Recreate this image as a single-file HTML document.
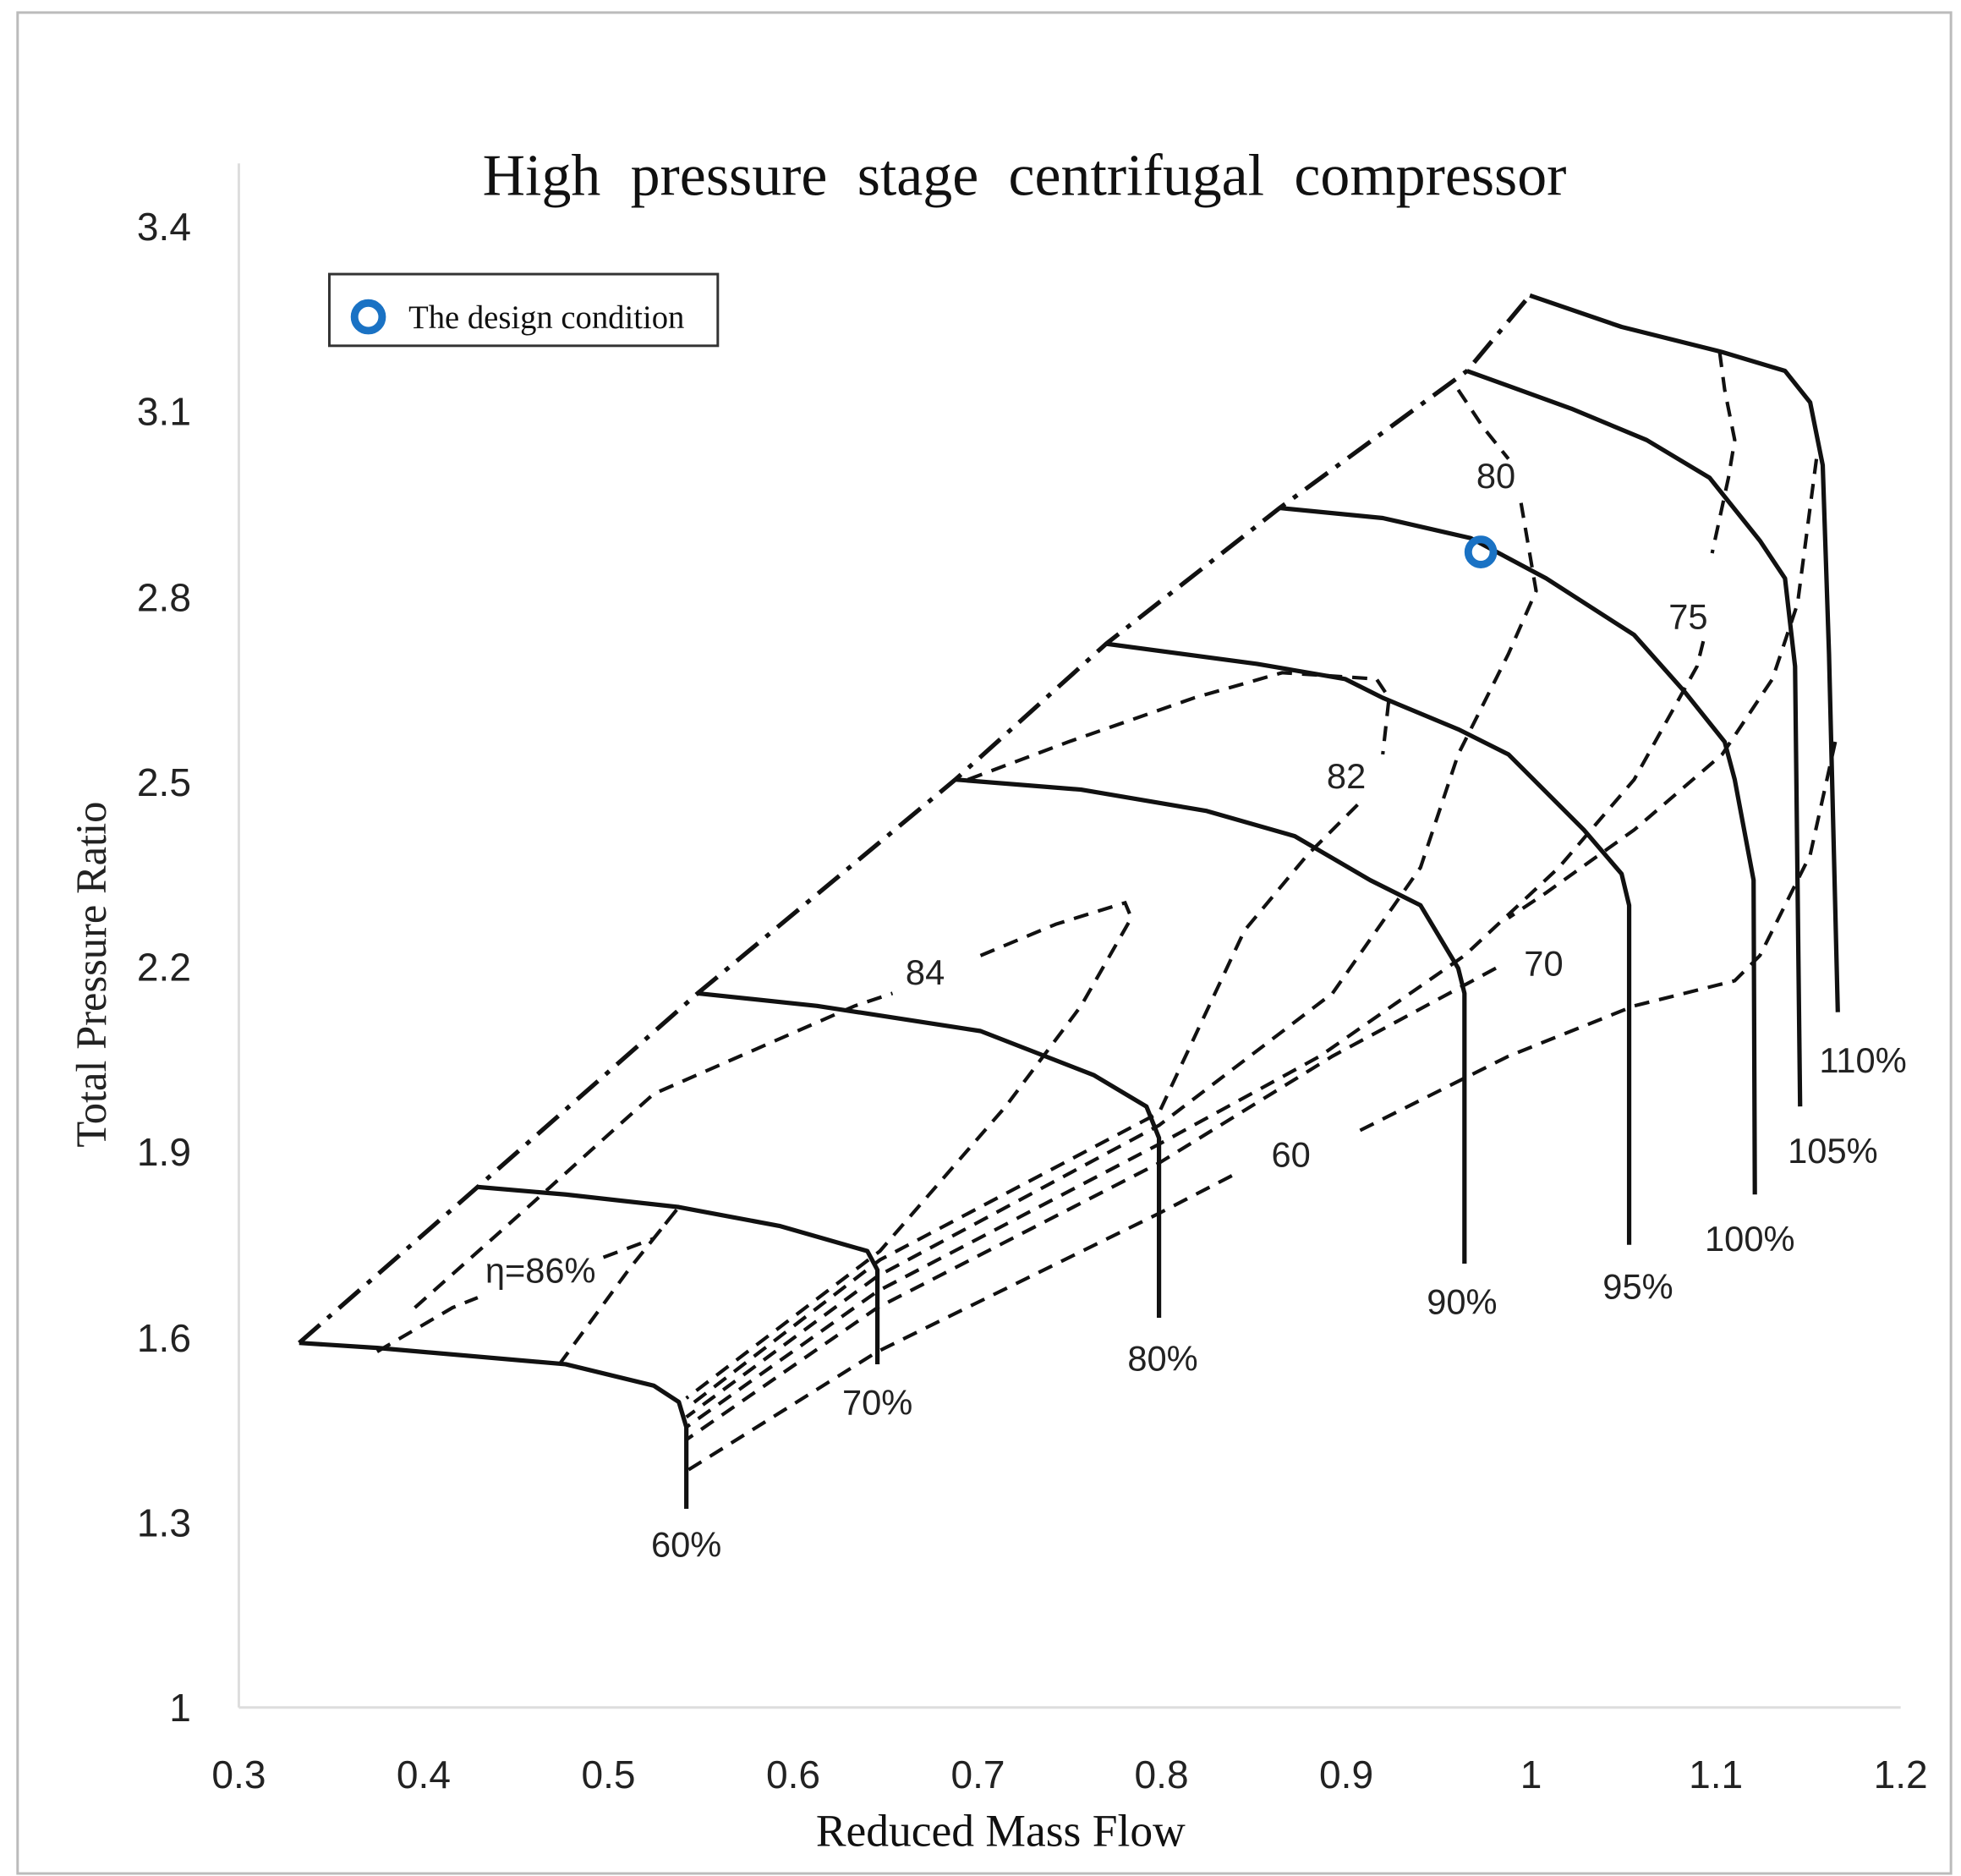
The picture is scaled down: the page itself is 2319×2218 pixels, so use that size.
<!DOCTYPE html>
<html><head><style>html,body{margin:0;padding:0;background:#fff}svg{display:block}</style></head>
<body>
<svg width="2319" height="2218" viewBox="0 0 1560 1492" preserveAspectRatio="none" xmlns="http://www.w3.org/2000/svg">
<rect x="0" y="0" width="1560" height="1492" fill="#fff"/>
<rect x="14" y="10" width="1538" height="1480" fill="none" stroke="#bbb" stroke-width="2"/>
<line x1="190" y1="130" x2="190" y2="1358" stroke="#ddd" stroke-width="2"/>
<line x1="190" y1="1358" x2="1512" y2="1358" stroke="#ddd" stroke-width="2"/>
<g font-family="Liberation Sans, sans-serif" font-size="31" fill="#222" text-anchor="end">
<text x="152" y="191">3.4</text><text x="152" y="338">3.1</text><text x="152" y="486">2.8</text>
<text x="152" y="633">2.5</text><text x="152" y="780">2.2</text><text x="152" y="927">1.9</text>
<text x="152" y="1075">1.6</text><text x="152" y="1222">1.3</text><text x="152" y="1369">1</text>
</g>
<g font-family="Liberation Sans, sans-serif" font-size="31" fill="#222" text-anchor="middle">
<text x="190" y="1422">0.3</text><text x="337" y="1422">0.4</text><text x="484" y="1422">0.5</text>
<text x="631" y="1422">0.6</text><text x="778" y="1422">0.7</text><text x="924" y="1422">0.8</text>
<text x="1071" y="1422">0.9</text><text x="1218" y="1422">1</text><text x="1365" y="1422">1.1</text><text x="1512" y="1422">1.2</text>
</g>
<text x="815" y="155" font-family="Liberation Serif, serif" font-size="47" word-spacing="12" text-anchor="middle" fill="#111">High pressure stage centrifugal compressor</text>
<text x="796" y="1468" font-family="Liberation Serif, serif" font-size="36" text-anchor="middle" fill="#111">Reduced Mass Flow</text>
<text transform="translate(84,775) rotate(-90)" font-family="Liberation Serif, serif" font-size="34" text-anchor="middle" fill="#222">Total Pressure Ratio</text>
<rect x="262" y="218" width="309" height="57" fill="#fff" stroke="#333" stroke-width="2"/>
<circle cx="293" cy="252" r="11" fill="none" stroke="#1a72c4" stroke-width="6"/>
<text x="325" y="261" font-family="Liberation Serif, serif" font-size="26" fill="#111">The design condition</text>
<g fill="none" stroke="#111" stroke-width="3.5" stroke-linejoin="round">
<polyline points="238,1068 300,1072 450,1085 520,1102 540,1115 546,1135 546,1200"/>
<polyline points="380,944 450,950 540,960 620,975 690,995 698,1010 698,1085"/>
<polyline points="555,790 650,800 780,820 870,855 912,880 922,905 922,1048"/>
<polyline points="760,620 860,628 960,645 1030,665 1090,700 1130,720 1160,770 1165,790 1165,1005"/>
<polyline points="880,512 1000,528 1070,540 1100,555 1160,580 1200,600 1260,660 1290,695 1296,720 1296,990"/>
<polyline points="1018,404 1100,412 1170,428 1230,460 1300,505 1340,550 1372,590 1380,620 1395,700 1396,950"/>
<polyline points="1167,295 1250,325 1310,350 1360,380 1400,430 1420,460 1428,530 1432,880"/>
<polyline points="1217,235 1290,260 1370,280 1420,295 1440,320 1450,370 1455,520 1462,805"/>
</g>
<polyline fill="none" stroke="#111" stroke-width="3.5" stroke-dasharray="22,8,4,8" points="238,1068 380,944 555,790 760,620 880,512 1018,404 1167,295 1217,235"/>
<g fill="none" stroke="#111" stroke-width="2.8" stroke-dasharray="12,8">
<polyline points="300,1075 360,1040 380,1032"/>
<polyline points="480,1000 520,985 540,960 500,1010 445,1085"/>
<polyline points="330,1040 420,960 520,870 680,800 710,790"/>
<polyline points="780,760 840,735 895,718 900,730 860,800 800,880 700,995 546,1112"/>
<polyline points="770,620 850,590 950,555 1020,535 1095,540 1105,555 1100,600"/>
<polyline points="1080,640 1040,680 990,740 922,885 700,1002 546,1120"/>
<polyline points="1160,310 1180,340 1200,365"/>
<polyline points="1210,400 1222,470 1200,520 1160,600 1130,690 1060,790 922,895 698,1015 546,1127"/>
<polyline points="1368,280 1372,310 1380,350 1375,380 1362,440"/>
<polyline points="1355,510 1350,530 1300,620 1240,690 1165,760 1050,840 922,910 698,1027 546,1135"/>
<polyline points="1445,365 1430,480 1410,540 1370,600 1300,660 1230,710 1200,730"/>
<polyline points="1190,770 1060,840 922,925 698,1040 546,1145"/>
<polyline points="1460,590 1440,680 1400,760 1380,780 1300,800 1200,840 1080,900"/>
<polyline points="980,935 922,965 698,1075 546,1170"/>
</g>
<circle cx="1178" cy="439" r="10" fill="none" stroke="#1a72c4" stroke-width="6"/>
<g font-family="Liberation Sans, sans-serif" font-size="28" fill="#222" text-anchor="middle">
<text x="546" y="1238">60%</text><text x="698" y="1125">70%</text><text x="925" y="1090">80%</text>
<text x="1163" y="1045">90%</text><text x="1303" y="1033">95%</text><text x="1392" y="995">100%</text>
<text x="1458" y="925">105%</text><text x="1482" y="853">110%</text>
<text x="430" y="1020">η=86%</text><text x="736" y="783">84</text><text x="1071" y="627">82</text>
<text x="1190" y="388">80</text><text x="1343" y="500">75</text><text x="1228" y="776">70</text><text x="1027" y="928">60</text>
</g>
</svg>
</body></html>
